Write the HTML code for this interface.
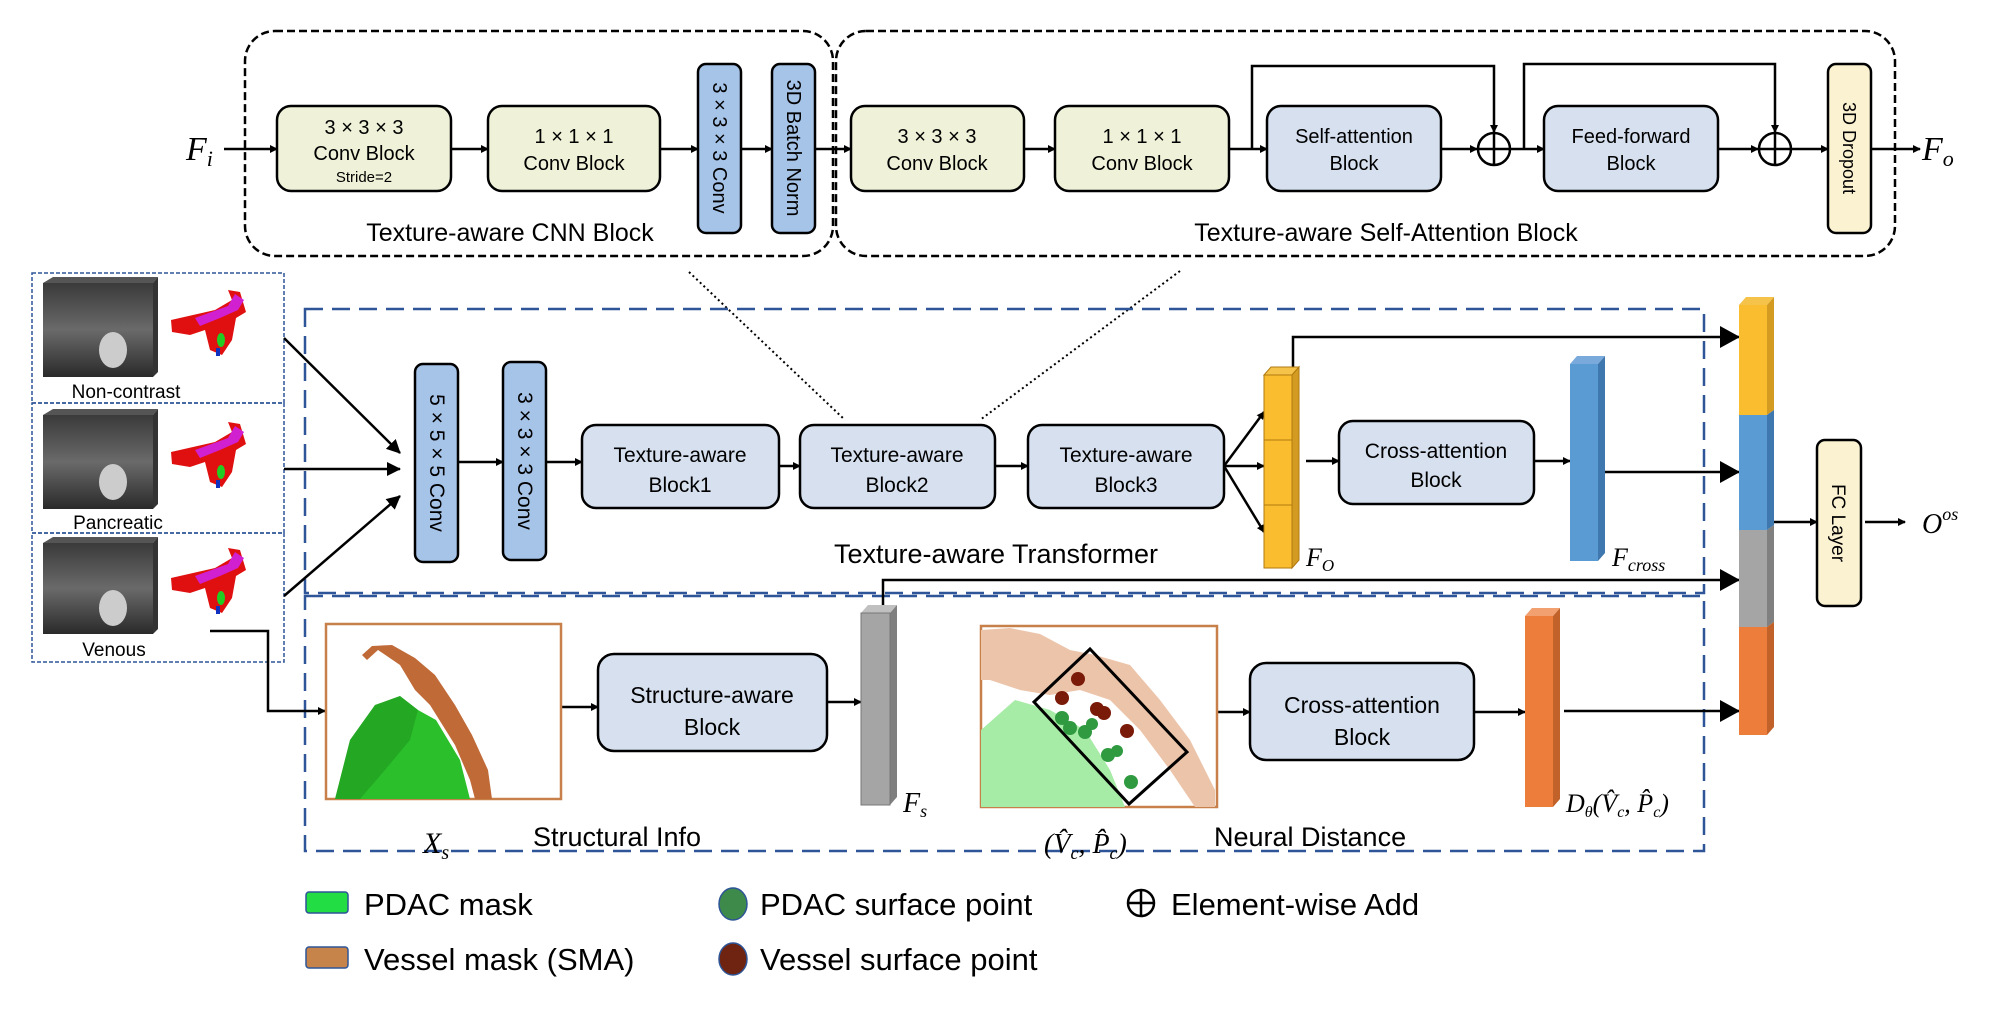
<!DOCTYPE html>
<html><head><meta charset="utf-8"><style>
html,body{margin:0;padding:0;background:#fff;}
svg{display:block;}
text{font-family:"Liberation Sans",sans-serif;fill:#000;}
.m{font-family:"Liberation Serif",serif;font-style:italic;}
</style></head><body>
<svg width="1996" height="1012" viewBox="0 0 1996 1012" xmlns="http://www.w3.org/2000/svg">
<defs>
<marker id="a" markerWidth="8" markerHeight="8" refX="7" refY="4" orient="auto" markerUnits="userSpaceOnUse"><path d="M0,0 L8,4 L0,8 z" fill="#000"/></marker>
<marker id="b" markerWidth="14" markerHeight="14" refX="13" refY="7" orient="auto" markerUnits="userSpaceOnUse"><path d="M0,0 L14,7 L0,14 z" fill="#000"/></marker>
<marker id="c" markerWidth="20" markerHeight="22" refX="19" refY="11" orient="auto" markerUnits="userSpaceOnUse"><path d="M0,0 L20,11 L0,22 z" fill="#000"/></marker>
<linearGradient id="ct" x1="0" y1="0" x2="0" y2="1"><stop offset="0" stop-color="#3a3a3a"/><stop offset="0.5" stop-color="#6a6a6a"/><stop offset="1" stop-color="#2a2a2a"/></linearGradient>
</defs>

<!-- top dashed boxes -->
<rect x="245" y="31" width="588" height="225" rx="30" fill="none" stroke="#000" stroke-width="2.5" stroke-dasharray="8,4"/>
<rect x="836" y="31" width="1059" height="225" rx="30" fill="none" stroke="#000" stroke-width="2.5" stroke-dasharray="8,4"/>

<text x="186" y="160" class="m" font-size="34">F<tspan font-size="22" dy="6">i</tspan></text>
<g stroke="#000" stroke-width="2.5" fill="none">
<line x1="224" y1="149" x2="277" y2="149" marker-end="url(#a)"/>
<line x1="451" y1="149" x2="488" y2="149" marker-end="url(#a)"/>
<line x1="660" y1="149" x2="698" y2="149" marker-end="url(#a)"/>
<line x1="741" y1="149" x2="772" y2="149" marker-end="url(#a)"/>
<line x1="815" y1="149" x2="851" y2="149" marker-end="url(#a)"/>
<line x1="1024" y1="149" x2="1055" y2="149" marker-end="url(#a)"/>
<line x1="1229" y1="149" x2="1267" y2="149" marker-end="url(#a)"/>
<line x1="1441" y1="149" x2="1477" y2="149" marker-end="url(#a)"/>
<line x1="1511" y1="149" x2="1544" y2="149" marker-end="url(#a)"/>
<line x1="1718" y1="149" x2="1758" y2="149" marker-end="url(#a)"/>
<line x1="1792" y1="149" x2="1828" y2="149" marker-end="url(#a)"/>
<line x1="1871" y1="149" x2="1920" y2="149" marker-end="url(#a)"/>
<polyline points="1252,149 1252,66 1494,66 1494,132" marker-end="url(#a)"/>
<polyline points="1524,149 1524,64 1775,64 1775,132" marker-end="url(#a)"/>
</g>
<circle cx="1494" cy="149" r="16" fill="none" stroke="#000" stroke-width="2.5"/>
<line x1="1478" y1="149" x2="1510" y2="149" stroke="#000" stroke-width="2.5"/><line x1="1494" y1="133" x2="1494" y2="165" stroke="#000" stroke-width="2.5"/>
<circle cx="1775" cy="149" r="16" fill="none" stroke="#000" stroke-width="2.5"/>
<line x1="1759" y1="149" x2="1791" y2="149" stroke="#000" stroke-width="2.5"/><line x1="1775" y1="133" x2="1775" y2="165" stroke="#000" stroke-width="2.5"/>
<text x="1922" y="160" class="m" font-size="34">F<tspan font-size="22" dy="6">o</tspan></text>

<g stroke="#000" stroke-width="2.5">
<rect x="277" y="106" width="174" height="85" rx="14" fill="#eff2d8"/>
<rect x="488" y="106" width="172" height="85" rx="14" fill="#eff2d8"/>
<rect x="851" y="106" width="173" height="85" rx="14" fill="#eff2d8"/>
<rect x="1055" y="106" width="174" height="85" rx="14" fill="#eff2d8"/>
<rect x="1267" y="106" width="174" height="85" rx="14" fill="#d6e0ef"/>
<rect x="1544" y="106" width="174" height="85" rx="14" fill="#d6e0ef"/>
<rect x="698" y="64" width="43" height="169" rx="8" fill="#a6c3e8"/>
<rect x="772" y="64" width="43" height="169" rx="8" fill="#a6c3e8"/>
<rect x="1828" y="64" width="43" height="169" rx="8" fill="#fbf2d2"/>
</g>
<g font-size="20" text-anchor="middle">
<text x="364" y="134">3 × 3 × 3</text><text x="364" y="160">Conv Block</text><text x="364" y="182" font-size="15">Stride=2</text>
<text x="574" y="143">1 × 1 × 1</text><text x="574" y="170">Conv Block</text>
<text x="937" y="143">3 × 3 × 3</text><text x="937" y="170">Conv Block</text>
<text x="1142" y="143">1 × 1 × 1</text><text x="1142" y="170">Conv Block</text>
<text x="1354" y="143">Self-attention</text><text x="1354" y="170">Block</text>
<text x="1631" y="143">Feed-forward</text><text x="1631" y="170">Block</text>
<text transform="translate(713,148) rotate(90)">3 × 3 × 3  Conv</text>
<text transform="translate(787,148) rotate(90)">3D Batch Norm</text>
<text transform="translate(1843,148) rotate(90)" font-size="18">3D Dropout</text>
</g>
<text x="510" y="241" font-size="25" text-anchor="middle">Texture-aware CNN Block</text>
<text x="1386" y="241" font-size="25" text-anchor="middle">Texture-aware Self-Attention Block</text>

<!-- dotted lines -->
<line x1="689" y1="272" x2="845" y2="420" stroke="#000" stroke-width="2" stroke-dasharray="2,3"/>
<line x1="1180" y1="271" x2="980" y2="420" stroke="#000" stroke-width="2" stroke-dasharray="2,3"/>

<!-- transformer / structure dashed -->
<rect x="305" y="309" width="1399" height="284" fill="none" stroke="#2e5597" stroke-width="2.5" stroke-dasharray="18,9"/>
<rect x="305" y="596" width="1399" height="255" fill="none" stroke="#2e5597" stroke-width="2.5" stroke-dasharray="18,9"/>

<!-- input panels -->
<g fill="none" stroke="#2e5597" stroke-width="1.5" stroke-dasharray="4,2">
<rect x="32" y="273" width="252" height="130"/><rect x="32" y="403" width="252" height="130"/><rect x="32" y="533" width="252" height="129"/>
</g>
<g>
<rect x="43" y="283" width="110" height="94" fill="url(#ct)"/><polygon points="43,283 53,277 158,277 153,283" fill="#555"/><polygon points="153,283 158,277 158,372 153,377" fill="#333"/>
<ellipse cx="113" cy="350" rx="14" ry="18" fill="#ccc"/>
<rect x="43" y="415" width="110" height="94" fill="url(#ct)"/><polygon points="43,415 53,409 158,409 153,415" fill="#555"/><polygon points="153,415 158,409 158,504 153,509" fill="#333"/>
<ellipse cx="113" cy="482" rx="14" ry="18" fill="#ccc"/>
<rect x="43" y="543" width="110" height="91" fill="url(#ct)"/><polygon points="43,543 53,537 158,537 153,543" fill="#555"/><polygon points="153,543 158,537 158,629 153,634" fill="#333"/>
<ellipse cx="113" cy="608" rx="14" ry="18" fill="#ccc"/>
</g>
<g>
<g transform="translate(0,0)"><path d="M171,320 L215,310 L232,300 L228,290 L240,292 L246,312 L236,318 L232,340 L222,355 L210,350 L205,330 L190,335 L172,332z" fill="#e01010"/><path d="M195,318 L228,306 L235,294 L244,300 L238,310 L220,318 L200,326z" fill="#d020d0"/><ellipse cx="221" cy="340" rx="4" ry="7" fill="#22cc22"/><rect x="216" y="348" width="4" height="8" fill="#1030c0"/></g>
<g transform="translate(0,132)"><path d="M171,320 L215,310 L232,300 L228,290 L240,292 L246,312 L236,318 L232,340 L222,355 L210,350 L205,330 L190,335 L172,332z" fill="#e01010"/><path d="M195,318 L228,306 L235,294 L244,300 L238,310 L220,318 L200,326z" fill="#d020d0"/><ellipse cx="221" cy="340" rx="4" ry="7" fill="#22cc22"/><rect x="216" y="348" width="4" height="8" fill="#1030c0"/></g>
<g transform="translate(0,258)"><path d="M171,320 L215,310 L232,300 L228,290 L240,292 L246,312 L236,318 L232,340 L222,355 L210,350 L205,330 L190,335 L172,332z" fill="#e01010"/><path d="M195,318 L228,306 L235,294 L244,300 L238,310 L220,318 L200,326z" fill="#d020d0"/><ellipse cx="221" cy="340" rx="4" ry="7" fill="#22cc22"/><rect x="216" y="348" width="4" height="8" fill="#1030c0"/></g>
</g>
<g font-size="19" text-anchor="middle">
<text x="126" y="398">Non-contrast</text><text x="118" y="529">Pancreatic</text><text x="114" y="656">Venous</text>
</g>

<g stroke="#000" stroke-width="2.5" fill="none">
<line x1="284" y1="338" x2="400" y2="453" marker-end="url(#b)"/>
<line x1="284" y1="469" x2="400" y2="469" marker-end="url(#b)"/>
<line x1="284" y1="596" x2="400" y2="496" marker-end="url(#b)"/>
<line x1="458" y1="462" x2="503" y2="462" marker-end="url(#a)"/>
<line x1="546" y1="462" x2="582" y2="462" marker-end="url(#a)"/>
<line x1="779" y1="466" x2="800" y2="466" marker-end="url(#a)"/>
<line x1="995" y1="466" x2="1028" y2="466" marker-end="url(#a)"/>
<line x1="1224" y1="466" x2="1264" y2="412" marker-end="url(#a)"/>
<line x1="1224" y1="466" x2="1264" y2="466" marker-end="url(#a)"/>
<line x1="1224" y1="466" x2="1264" y2="532" marker-end="url(#a)"/>
<line x1="1306" y1="461" x2="1339" y2="461" marker-end="url(#a)"/>
<line x1="1534" y1="461" x2="1570" y2="461" marker-end="url(#a)"/>
<polyline points="1293,367 1293,337 1739,337" marker-end="url(#c)"/>
<line x1="1605" y1="472" x2="1739" y2="472" marker-end="url(#c)"/>
<polyline points="883,605 883,580 1739,580" marker-end="url(#c)"/>
<line x1="1564" y1="711" x2="1739" y2="711" marker-end="url(#c)"/>
<line x1="1774" y1="522" x2="1817" y2="522" marker-end="url(#a)"/>
<line x1="1865" y1="522" x2="1905" y2="522" marker-end="url(#a)"/>
<polyline points="210,631 268,631 268,711 325,711" marker-end="url(#a)"/>
<line x1="561" y1="707" x2="598" y2="707" marker-end="url(#a)"/>
<line x1="827" y1="702" x2="861" y2="702" marker-end="url(#a)"/>
<line x1="1187" y1="712" x2="1250" y2="712" marker-end="url(#a)"/>
<line x1="1474" y1="712" x2="1525" y2="712" marker-end="url(#a)"/>
</g>

<g stroke="#000" stroke-width="2.5">
<rect x="415" y="364" width="43" height="198" rx="8" fill="#a6c3e8"/>
<rect x="503" y="362" width="43" height="198" rx="8" fill="#a6c3e8"/>
<rect x="582" y="425" width="197" height="83" rx="14" fill="#d6e0ef"/>
<rect x="800" y="425" width="195" height="83" rx="14" fill="#d6e0ef"/>
<rect x="1028" y="425" width="196" height="83" rx="14" fill="#d6e0ef"/>
<rect x="1339" y="421" width="195" height="83" rx="14" fill="#d6e0ef"/>
<rect x="598" y="654" width="229" height="97" rx="16" fill="#d6e0ef"/>
<rect x="1250" y="663" width="224" height="97" rx="16" fill="#d6e0ef"/>
<rect x="1817" y="440" width="44" height="166" rx="8" fill="#fbf2d2"/>
</g>
<g font-size="21" text-anchor="middle">
<text transform="translate(430,463) rotate(90)">5 × 5 × 5  Conv</text>
<text transform="translate(518,461) rotate(90)">3 × 3 × 3  Conv</text>
<text x="680" y="462">Texture-aware</text><text x="680" y="492">Block1</text>
<text x="897" y="462">Texture-aware</text><text x="897" y="492">Block2</text>
<text x="1126" y="462">Texture-aware</text><text x="1126" y="492">Block3</text>
<text x="1436" y="458">Cross-attention</text><text x="1436" y="487" font-family="Liberation Serif">Block</text>
<text x="712" y="703" font-size="23">Structure-aware</text><text x="712" y="735" font-size="23">Block</text>
<text x="1362" y="713" font-size="23">Cross-attention</text><text x="1362" y="745" font-size="23">Block</text>
<text transform="translate(1832,523) rotate(90)" font-size="19">FC Layer</text>
</g>
<text x="996" y="563" font-size="27" text-anchor="middle">Texture-aware Transformer</text>

<!-- F_O bar -->
<g stroke="#b07a10" stroke-width="1">
<polygon points="1264,375 1271,367 1299,367 1292,375" fill="#f5c24a"/>
<polygon points="1292,375 1299,367 1299,560 1292,568" fill="#d49b22"/>
<rect x="1264" y="375" width="28" height="193" fill="#fbbd30"/>
<line x1="1264" y1="440" x2="1292" y2="440"/><line x1="1264" y1="505" x2="1292" y2="505"/>
</g>
<text x="1306" y="566" class="m" font-size="26">F<tspan font-size="17" dy="5">O</tspan></text>
<!-- F_cross -->
<g>
<polygon points="1570,364 1577,356 1605,356 1598,364" fill="#7aaadc"/>
<polygon points="1598,364 1605,356 1605,553 1598,561" fill="#3f78ae"/>
<rect x="1570" y="364" width="28" height="197" fill="#5a9bd3"/>
</g>
<text x="1612" y="566" class="m" font-size="26">F<tspan font-size="18" dy="5">cross</tspan></text>
<!-- concat bar -->
<g>
<polygon points="1739,305 1746,297 1774,297 1767,305" fill="#f5c24a"/>
<rect x="1739" y="305" width="28" height="110" fill="#fbbd30"/><polygon points="1767,305 1774,297 1774,410 1767,415" fill="#d49b22"/>
<rect x="1739" y="415" width="28" height="115" fill="#5a9bd3"/><polygon points="1767,415 1774,410 1774,525 1767,530" fill="#3f78ae"/>
<rect x="1739" y="530" width="28" height="97" fill="#a5a5a5"/><polygon points="1767,530 1774,525 1774,622 1767,627" fill="#808080"/>
<rect x="1739" y="627" width="28" height="108" fill="#ed7d3b"/><polygon points="1767,627 1774,622 1774,727 1767,735" fill="#c0622a"/>
</g>
<text x="1922" y="533" class="m" font-size="28">O<tspan font-size="18" dy="-13">os</tspan></text>

<!-- Fs bar -->
<g>
<polygon points="861,613 868,605 897,605 890,613" fill="#c0c0c0"/>
<polygon points="890,613 897,605 897,797 890,805" fill="#7f7f7f"/>
<rect x="861" y="613" width="29" height="192" fill="#a5a5a5" stroke="#777" stroke-width="1"/>
</g>
<text x="903" y="812" class="m" font-size="28">F<tspan font-size="18" dy="5">s</tspan></text>
<!-- orange D bar -->
<g>
<polygon points="1525,616 1532,608 1560,608 1553,616" fill="#f2a070"/>
<polygon points="1553,616 1560,608 1560,799 1553,807" fill="#c0622a"/>
<rect x="1525" y="616" width="28" height="191" fill="#ed7d3b"/>
</g>
<text x="1566" y="812" class="m" font-size="26">D<tspan font-size="16" dy="5">θ</tspan><tspan dy="-5">(V̂</tspan><tspan font-size="16" dy="5">c</tspan><tspan dy="-5">, P̂</tspan><tspan font-size="16" dy="5">c</tspan><tspan dy="-5">)</tspan></text>

<!-- structural image -->
<rect x="326" y="624" width="235" height="175" fill="#fff" stroke="#c8804a" stroke-width="2.5"/>
<path d="M335,799 L350,740 L375,705 L400,696 L418,710 L436,720 L460,760 L470,799z" fill="#2bc02b"/>
<path d="M375,705 L400,696 L418,710 L410,740 L385,770 L360,799 L335,799 L350,740z" fill="#1d8f1d" opacity="0.5"/>
<path d="M367,660 L378,650 L400,665 L415,690 L430,705 L455,745 L470,780 L475,799 L492,799 L488,770 L472,735 L455,705 L435,675 L415,658 L392,645 L372,646 L362,655z" fill="#c06a38"/>
<text x="423" y="853" class="m" font-size="30">X<tspan font-size="20" dy="6">s</tspan></text>
<text x="533" y="846" font-size="27">Structural Info</text>

<!-- neural distance image -->
<rect x="981" y="626" width="236" height="181" fill="#fff" stroke="#c8804a" stroke-width="2.5"/>
<path d="M981,807 L981,730 L1015,700 L1050,710 L1085,730 L1110,770 L1125,807z" fill="#a6eba6"/>
<path d="M981,630 L1010,628 L1040,634 L1070,650 L1095,655 L1130,665 L1160,700 L1190,740 L1215,790 L1215,807 L1195,807 L1170,770 L1140,730 L1110,700 L1080,690 L1050,695 L1020,690 L990,680 L981,680z" fill="#ecc4aa"/>
<g fill="#7a1a08"><circle cx="1078" cy="679" r="7"/><circle cx="1062" cy="698" r="7"/><circle cx="1097" cy="709" r="7"/><circle cx="1104" cy="713" r="7"/><circle cx="1127" cy="731" r="7"/></g>
<g fill="#2f9a40"><circle cx="1062" cy="718" r="7"/><circle cx="1070" cy="728" r="7"/><circle cx="1085" cy="732" r="7"/><circle cx="1108" cy="755" r="7"/><circle cx="1117" cy="751" r="6"/><circle cx="1131" cy="782" r="7"/><circle cx="1092" cy="724" r="6"/></g>
<polygon points="1090,649 1187,752 1129,804 1034,702" fill="none" stroke="#000" stroke-width="3"/>
<text x="1044" y="853" class="m" font-size="28">(V̂<tspan font-size="18" dy="6">c</tspan><tspan dy="-6">, P̂</tspan><tspan font-size="18" dy="6">c</tspan><tspan dy="-6">)</tspan></text>
<text x="1214" y="846" font-size="27">Neural Distance</text>

<!-- legend -->
<rect x="306" y="892" width="42" height="21" rx="3" fill="#22dd44" stroke="#2e5597" stroke-width="1.5"/>
<text x="364" y="915" font-size="31">PDAC mask</text>
<rect x="306" y="947" width="42" height="21" rx="3" fill="#c7844a" stroke="#2e5597" stroke-width="1.5"/>
<text x="364" y="970" font-size="31">Vessel mask (SMA)</text>
<ellipse cx="733" cy="904" rx="14" ry="16" fill="#3e8a4a" stroke="#2e5597" stroke-width="1.5"/>
<text x="760" y="915" font-size="31">PDAC surface point</text>
<ellipse cx="733" cy="959" rx="14" ry="16" fill="#6e2410" stroke="#2e5597" stroke-width="1.5"/>
<text x="760" y="970" font-size="31">Vessel surface point</text>
<circle cx="1141" cy="903" r="13" fill="none" stroke="#000" stroke-width="2.5"/>
<line x1="1128" y1="903" x2="1154" y2="903" stroke="#000" stroke-width="2.5"/><line x1="1141" y1="890" x2="1141" y2="916" stroke="#000" stroke-width="2.5"/>
<text x="1171" y="915" font-size="31">Element-wise Add</text>
</svg>
</body></html>
